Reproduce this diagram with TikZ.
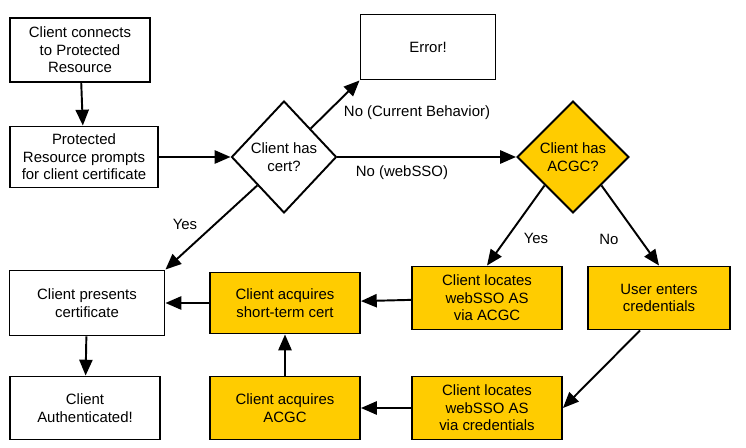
\documentclass[tikz,border=0pt]{standalone}
\usepackage{fontspec}
\setmainfont{Liberation Sans}
\usetikzlibrary{shapes.geometric,arrows.meta}
\definecolor{gold}{HTML}{FFCC00}
\tikzset{
  box/.style={draw, line width=1.1pt, align=center, inner sep=1pt,
    minimum width=3cm, minimum height=1.26cm, font=\fontsize{8.5}{10}\selectfont},
  ybox/.style={box, fill=gold},
  dec/.style={draw, diamond, line width=1.1pt, align=center, inner sep=0pt,
    minimum width=2.1cm, minimum height=2.24cm, font=\fontsize{8.5}{10}\selectfont},
  arr/.style={line width=1.1pt, -{Triangle[length=9pt,width=7.5pt]}},
  lbl/.style={font=\fontsize{8.5}{10}\selectfont}
}
\begin{document}
\begin{tikzpicture}[x=0.02cm,y=-0.02cm]
\useasboundingbox (0,0) rectangle (746,448);

%left column
\node[box, minimum width=2.8cm, minimum height=1.28cm] (connect) at (80,50) {Client connects\\to Protected\\Resource};
\node[box, minimum width=2.96cm, minimum height=1.22cm] (prompt) at (84,157) {Protected\\Resource prompts\\for client certificate};
\node[box, minimum width=3.1cm, minimum height=1.3cm] (present) at (87,303) {Client presents\\certificate};
\node[box, minimum height=1.26cm] (auth) at (85,408) {Client\\Authenticated!};

%decisions
\node[dec] (hascert) at (284,157) {Client has\\cert?};
\node[dec, fill=gold, minimum width=2.24cm] (hasacgc) at (573,157) {Client has\\ACGC?};
\node[box, minimum width=2.7cm, minimum height=1.3cm] (error) at (428,47) {Error!};

%webSSO path
\node[ybox, minimum height=1.22cm] (shortcert) at (285,303) {Client acquires\\short-term cert};
\node[ybox] (locacgc) at (487,298) {Client locates\\webSSO AS\\via ACGC};
\node[ybox, minimum width=2.84cm] (creds) at (659,298) {User enters\\credentials};
\node[ybox] (getacgc) at (285,408) {Client acquires\\ACGC};
\node[ybox] (loccred) at (487,408) {Client locates\\webSSO AS\\via credentials};

% connections
\draw[arr] (connect) -- (prompt);
\draw[arr] (prompt) -- (hascert);
\draw[arr] (hascert.north east) -- (error.south west);
\node[lbl] at (417,113) {No (Current Behavior)};
\draw[arr] (hascert) -- (hasacgc);
\node[lbl] at (402,173) {No (webSSO)};
\draw[arr] (hascert.south west) -- (present.north east);
\node[lbl] at (185,224) {Yes};
\draw[arr] (hasacgc.south west) -- (locacgc.north);
\node[lbl] at (536,238) {Yes};
\draw[arr] (hasacgc.south east) -- (creds.north);
\node[lbl] at (609,239) {No};
\draw[arr] (creds.south) ++(-19,0) coordinate (cs) -- (loccred.east);
\draw[arr] (loccred) -- (getacgc);
\draw[arr] (getacgc) -- (shortcert);
\draw[arr] (locacgc) -- (shortcert);
\draw[arr] (shortcert) -- (present);
\draw[arr] (present) -- (auth);
\end{tikzpicture}
\end{document}
